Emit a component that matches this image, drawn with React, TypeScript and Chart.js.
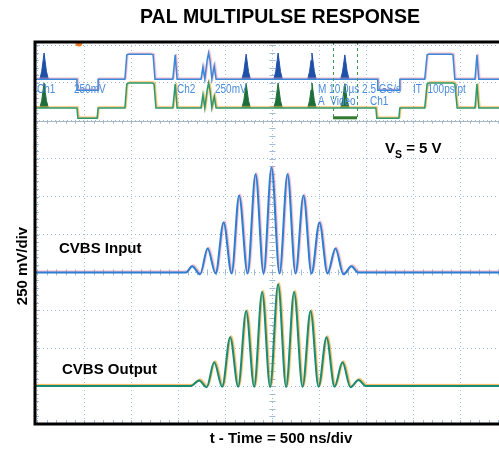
import React, { useEffect, useRef } from 'react';
import { Chart, registerables } from 'chart.js';

Chart.register(...registerables);

// ---- Main traces (time in divisions, amplitude in divisions; 500 ns/div, 250 mV/div) ----
const inputT = [-0.1, 3.16, 3.29, 3.46, 3.62, 3.79, 3.96, 4.13, 4.29, 4.47, 4.64, 4.81, 4.98, 5.15, 5.32, 5.49, 5.66, 5.83, 6.0, 6.17, 6.34, 6.51, 6.68, 6.82, 10];
const inputV = [4.0, 4.0, 4.16, 3.95, 4.63, 3.97, 5.32, 3.97, 6.03, 3.97, 6.59, 3.97, 6.77, 3.97, 6.59, 3.97, 6.03, 3.97, 5.32, 3.97, 4.63, 3.95, 4.16, 4.0, 4.0];

const outputT = [-0.1, 3.26, 3.44, 3.6, 3.76, 3.93, 4.1, 4.27, 4.44, 4.61, 4.78, 4.95, 5.12, 5.29, 5.46, 5.64, 5.81, 5.98, 6.15, 6.32, 6.49, 6.66, 6.83, 6.99, 10];
const outputV = [1.0, 1.0, 1.15, 0.97, 1.63, 0.98, 2.29, 0.98, 2.98, 0.98, 3.48, 0.98, 3.69, 0.98, 3.48, 0.98, 2.98, 0.98, 2.29, 0.98, 1.63, 0.97, 1.16, 1.0, 1.0];

// ---- Overview strip (zoomed-out record) ----
const blueStripT = [-0.1, 0.84, 0.84, 1.29, 1.29, 1.86, 1.9, 1.95, 2.41, 2.46, 2.5, 2.88, 2.93, 2.97, 3.48, 3.52, 3.56, 3.61, 3.64, 3.67, 3.71, 3.76, 3.8, 7.24, 7.24, 7.71, 7.71, 8.24, 8.29, 8.33, 8.8, 8.84, 8.88, 9.31, 9.35, 9.39, 10];
const blueStripV = [9.1, 9.1, 8.81, 8.81, 9.1, 9.1, 9.74, 9.76, 9.76, 9.74, 9.1, 9.1, 9.74, 9.1, 9.1, 9.42, 9.1, 9.6, 9.79, 9.6, 9.1, 9.45, 9.1, 9.1, 8.81, 8.81, 9.1, 9.1, 9.74, 9.76, 9.76, 9.74, 9.1, 9.1, 9.74, 9.1, 9.1];

const greenStripT = [-0.1, 0.84, 0.86, 1.27, 1.29, 1.86, 1.9, 1.95, 2.44, 2.48, 2.52, 2.88, 2.93, 2.97, 3.48, 3.52, 3.56, 3.61, 3.64, 3.67, 3.71, 3.76, 3.8, 7.2, 7.22, 7.69, 7.71, 8.24, 8.29, 8.33, 8.84, 8.88, 8.93, 9.31, 9.35, 9.39, 10];
const greenStripV = [8.34, 8.34, 8.07, 8.07, 8.34, 8.34, 8.97, 9.0, 9.0, 8.97, 8.34, 8.34, 8.97, 8.34, 8.34, 8.68, 8.34, 8.81, 9.0, 8.81, 8.34, 8.65, 8.34, 8.34, 8.07, 8.07, 8.34, 8.34, 8.97, 9.0, 9.0, 8.97, 8.34, 8.34, 8.97, 8.34, 8.34];

// compressed multipulse bursts in the strip
const burstCenters = [0.14, 4.44, 5.12, 5.84, 6.54];
const blueBurstTops = [9.79, 9.76, 9.79, 9.79, 9.74];
const greenBurstTops = [9.0, 8.99, 9.0, 9.0, 8.98];
const blueStripBase = 9.1;
const greenStripBase = 8.34;
const burstOffsets = [-0.09, -0.05, -0.02, 0, 0.02, 0.05, 0.09];
const burstShape = [0, 0.3, 0.72, 1, 0.72, 0.3, 0];

const cursorT = [6.29, 6.8];
const triggerT = 0.88;

const pts = (t: number[], v: number[]) => t.map((x, i) => ({ x, y: v[i] }));

function burstPts(tops: number[], base: number) {
  const out: any[] = [];
  burstCenters.forEach((c, i) => {
    burstOffsets.forEach((o, k) => out.push({ x: c + o, y: base + (tops[i] - base) * burstShape[k] }));
    out.push({ x: c + 0.12, y: null });
  });
  return out;
}

const FONT = '"Liberation Sans", Arial, Helvetica, sans-serif';

const shadowPlugin = {
  id: 'traceShadow',
  beforeDatasetDraw(chart: any, args: any) {
    const ds = chart.data.datasets[args.index];
    if (!ds.shadowColor) return;
    const ctx = chart.ctx;
    ctx.save();
    ctx.shadowColor = ds.shadowColor;
    ctx.shadowOffsetX = 1;
    ctx.shadowOffsetY = -1;
    ctx.shadowBlur = 1;
  },
  afterDatasetDraw(chart: any, args: any) {
    const ds = chart.data.datasets[args.index];
    if (!ds.shadowColor) return;
    chart.ctx.restore();
  },
};

const decorPlugin = {
  id: 'scopeDecor',
  beforeDatasetsDraw(chart: any) {
    const { ctx, chartArea: a, scales } = chart;
    const xs = scales.x, ys = scales.y;
    ctx.save();
    ctx.strokeStyle = 'rgba(140,170,205,0.8)';
    ctx.lineWidth = 1;
    const cx = xs.getPixelForValue(5);
    const cy = ys.getPixelForValue(4);
    ctx.beginPath();
    for (let v = 0; v <= 10.01; v += 0.2) {
      const y = Math.round(ys.getPixelForValue(v)) + 0.5;
      ctx.moveTo(cx - 3, y); ctx.lineTo(cx + 3, y);
      ctx.moveTo(a.left, y); ctx.lineTo(a.left + 4, y);
    }
    for (let t = 0; t <= 9.9; t += 0.2) {
      const x = Math.round(xs.getPixelForValue(t)) + 0.5;
      ctx.moveTo(x, cy - 3); ctx.lineTo(x, cy + 3);
      ctx.moveTo(x, a.bottom); ctx.lineTo(x, a.bottom - 4);
      ctx.moveTo(x, ys.getPixelForValue(8)); ctx.lineTo(x, ys.getPixelForValue(8) + 3);
    }
    ctx.stroke();
    ctx.strokeStyle = 'rgba(160,175,195,0.9)';
    ctx.beginPath();
    const sy = Math.round(ys.getPixelForValue(8)) + 0.5;
    ctx.moveTo(a.left, sy); ctx.lineTo(a.right, sy);
    ctx.stroke();
    ctx.restore();
  },
  afterDatasetsDraw(chart: any) {
    const { ctx, chartArea: a, scales } = chart;
    const xs = scales.x, ys = scales.y;
    ctx.save();
    ctx.strokeStyle = '#3a9a5a';
    ctx.lineWidth = 1;
    ctx.setLineDash([3, 3]);
    cursorT.forEach((t) => {
      const x = Math.round(xs.getPixelForValue(t)) + 0.5;
      ctx.beginPath(); ctx.moveTo(x, a.top); ctx.lineTo(x, ys.getPixelForValue(8.1)); ctx.stroke();
    });
    ctx.setLineDash([]);
    ctx.strokeStyle = '#2f7a2f';
    ctx.lineWidth = 3;
    ctx.beginPath();
    const by = ys.getPixelForValue(8.08);
    ctx.moveTo(xs.getPixelForValue(cursorT[0]), by); ctx.lineTo(xs.getPixelForValue(cursorT[1]), by);
    ctx.stroke();
    ctx.fillStyle = '#f07a28';
    ctx.beginPath();
    ctx.arc(xs.getPixelForValue(triggerT), a.top + 1, 3.5, 0, Math.PI);
    ctx.fill();
    ctx.fillStyle = '#4a8cda';
    const scopeText = (s: string, x: number, y: number) => {
      ctx.save();
      ctx.translate(x, y);
      ctx.scale(0.8, 1);
      ctx.font = `12.5px ${FONT}`;
      ctx.textBaseline = 'alphabetic';
      ctx.fillText(s, 0, 0);
      ctx.restore();
    };
    scopeText('Ch1', 37, 93);
    scopeText('250mV', 74, 93);
    scopeText('Ch2', 177, 93);
    scopeText('250mV', 215, 93);
    scopeText('M 10.0µs 2.5 GS/s', 318, 93);
    scopeText('IT  100ps/pt', 413, 93);
    scopeText('A  Video', 318, 105);
    scopeText('Ch1', 370, 105);
    ctx.restore();
  },
  afterDraw(chart: any) {
    const { ctx, chartArea: a } = chart;
    ctx.save();
    ctx.strokeStyle = '#000';
    ctx.lineWidth = 3;
    ctx.beginPath();
    ctx.moveTo(chart.width + 2, a.top);
    ctx.lineTo(a.left, a.top);
    ctx.lineTo(a.left, a.bottom);
    ctx.lineTo(chart.width + 2, a.bottom);
    ctx.stroke();

    ctx.fillStyle = '#000';
    ctx.textBaseline = 'alphabetic';
    ctx.textAlign = 'center';
    ctx.font = `bold 19.5px ${FONT}`;
    ctx.fillText('PAL MULTIPULSE RESPONSE', 280, 23);
    ctx.font = `bold 15px ${FONT}`;
    ctx.fillText('t - Time = 500 ns/div', 281, 443);

    ctx.save();
    ctx.translate(21.5, 266);
    ctx.rotate(-Math.PI / 2);
    ctx.fillText('250 mV/div', 0, 5.5);
    ctx.restore();

    ctx.textAlign = 'left';
    ctx.fillText('CVBS Input', 59, 253);
    ctx.fillText('CVBS Output', 62, 374);

    let x = 385;
    ctx.fillText('V', x, 152.5);
    x += ctx.measureText('V').width;
    ctx.font = `bold 10.5px ${FONT}`;
    ctx.fillText('S', x, 158.3);
    x += ctx.measureText('S').width;
    ctx.font = `bold 15px ${FONT}`;
    ctx.fillText(' = 5 V', x, 152.5);
    ctx.restore();
  },
};

export default function App() {
  const ref = useRef<HTMLCanvasElement>(null);
  useEffect(() => {
    if (!ref.current) return;
    const common = { pointRadius: 0, fill: false };
    const chart = new Chart(ref.current, {
      type: 'line',
      data: {
        datasets: [
          { ...common, label: 'CVBS Output', data: pts(outputT, outputV), borderColor: '#188c74', borderWidth: 2, cubicInterpolationMode: 'monotone', shadowColor: 'rgba(245,170,60,0.85)' } as any,
          { ...common, label: 'CVBS Input', data: pts(inputT, inputV), borderColor: '#2b7fd3', borderWidth: 2, cubicInterpolationMode: 'monotone', shadowColor: 'rgba(235,130,160,0.6)' } as any,
          { ...common, label: 'Ch2 overview', data: pts(greenStripT, greenStripV), borderColor: '#2c9a6c', borderWidth: 1.5, tension: 0, shadowColor: 'rgba(245,170,60,0.8)' } as any,
          { ...common, label: 'Ch1 overview', data: pts(blueStripT, blueStripV), borderColor: '#3a88da', borderWidth: 1.5, tension: 0, shadowColor: 'rgba(235,130,160,0.6)' } as any,
          { ...common, label: 'Ch2 bursts', data: burstPts(greenBurstTops, greenStripBase), borderColor: '#1e6e3a', backgroundColor: '#1e6e3a', borderWidth: 1, tension: 0, spanGaps: false, fill: { value: greenStripBase } } as any,
          { ...common, label: 'Ch1 bursts', data: burstPts(blueBurstTops, blueStripBase), borderColor: '#1f50a8', backgroundColor: '#1f50a8', borderWidth: 1, tension: 0, spanGaps: false, fill: { value: blueStripBase } } as any,
        ],
      },
      options: {
        responsive: false,
        animation: false,
        devicePixelRatio: 1,
        layout: { padding: { left: 35, top: 42, right: 0, bottom: 30 } },
        plugins: { legend: { display: false }, tooltip: { enabled: false }, title: { display: false } },
        scales: {
          x: {
            type: 'linear', min: -0.053, max: 9.82,
            ticks: { display: false, stepSize: 1, includeBounds: false },
            grid: { color: 'rgba(130,165,210,0.75)', lineWidth: 1, drawTicks: false },
            border: { display: false, dash: [1, 3] },
          },
          y: {
            type: 'linear', min: 0, max: 10.08,
            ticks: { display: false, stepSize: 1, includeBounds: false },
            grid: { color: 'rgba(130,165,210,0.75)', lineWidth: 1, drawTicks: false },
            border: { display: false, dash: [1, 3] },
          },
        },
      } as any,
      plugins: [shadowPlugin, decorPlugin],
    });
    return () => chart.destroy();
  }, []);
  return (
    <div style={{ position: 'absolute', left: 0, top: 0, width: 499, height: 454, background: '#fff' }}>
      <canvas ref={ref} width={499} height={454} style={{ width: 499, height: 454, display: 'block' }} />
    </div>
  );
}
